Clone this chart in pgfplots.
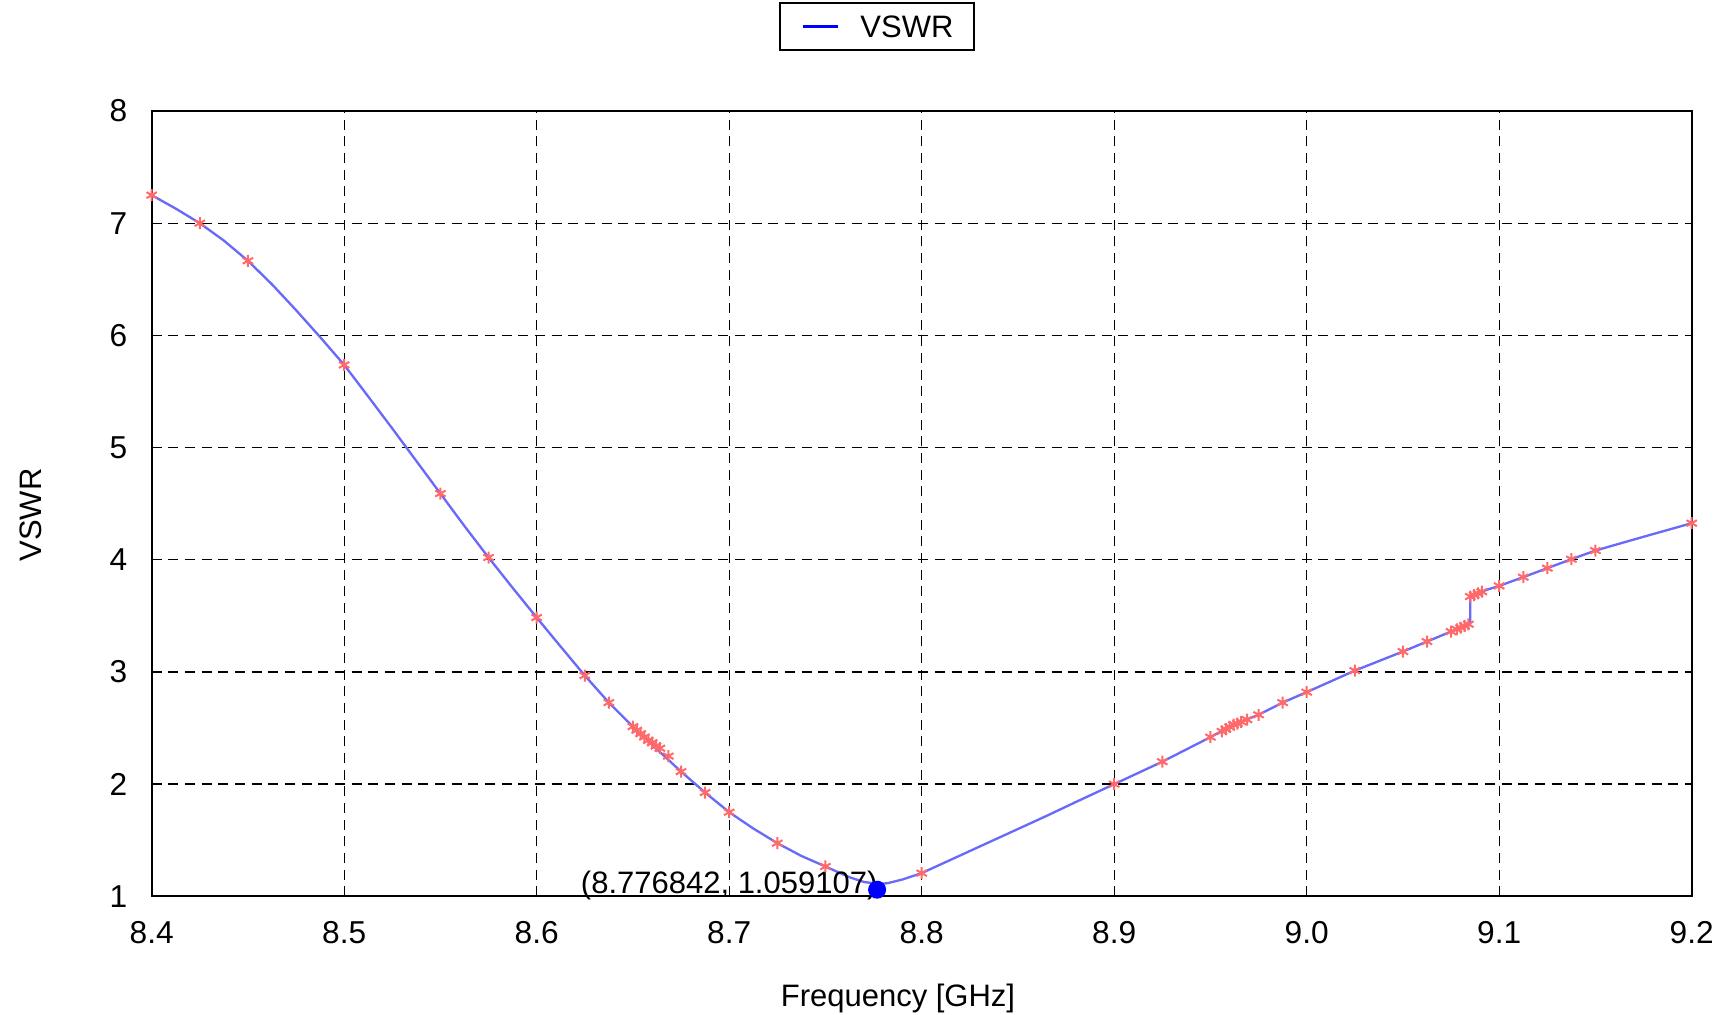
\documentclass[border=0pt]{standalone}
\usepackage{pgfplots}
\pgfplotsset{compat=1.18}
\usepackage{pgfplotstable}
\usepackage{fontspec}
\setmainfont{Liberation Sans}
\definecolor{curveblue}{RGB}{105,105,250}
\definecolor{markred}{RGB}{255,105,105}

\pgfplotstableread{
x y
8.4 7.25
8.4125 7.13
8.425 7.0
8.4375 6.845
8.45 6.665
8.4625 6.455
8.475 6.225
8.4875 5.985
8.5 5.737
8.5125 5.455
8.525 5.17
8.5375 4.88
8.55 4.59
8.5625 4.30
8.575 4.02
8.5875 3.75
8.6 3.485
8.6125 3.225
8.625 2.968
8.6375 2.727
8.65 2.513
8.6625 2.31
8.675 2.112
8.6875 1.925
8.7 1.75
8.7125 1.605
8.725 1.474
8.7375 1.36
8.75 1.266
8.7625 1.17
8.77 1.128
8.7768 1.112
8.782 1.116
8.79 1.15
8.8 1.207
8.815 1.325
8.83 1.443
8.85 1.60
8.865 1.718
8.88 1.84
8.9 2.0
8.925 2.2
8.95 2.419
8.962 2.53
8.975 2.618
8.9875 2.727
9.0 2.82
9.025 3.012
9.05 3.182
9.0625 3.271
9.075 3.36
9.085 3.43
9.085 3.672
9.0935 3.732
9.1 3.767
9.1125 3.845
9.125 3.925
9.1375 4.005
9.15 4.082
9.175 4.205
9.2 4.326
}\curvedata

\pgfplotstableread{
x y
8.4 7.25
8.425 7.0
8.45 6.665
8.5 5.737
8.55 4.59
8.575 4.02
8.6 3.485
8.625 2.968
8.6375 2.727
8.65 2.513
8.652 2.48
8.654 2.45
8.656 2.42
8.658 2.39
8.660 2.37
8.662 2.34
8.664 2.32
8.6684 2.25
8.675 2.112
8.6875 1.925
8.7 1.75
8.725 1.474
8.75 1.266
8.8 1.207
8.9 2.0
8.925 2.2
8.95 2.419
8.956 2.47
8.958 2.49
8.960 2.51
8.962 2.53
8.964 2.54
8.966 2.555
8.969 2.575
8.975 2.618
8.9875 2.727
9.0 2.82
9.025 3.012
9.05 3.182
9.0625 3.271
9.075 3.36
9.078 3.38
9.080 3.395
9.082 3.41
9.084 3.425
9.085 3.672
9.087 3.685
9.089 3.70
9.091 3.715
9.1 3.767
9.1125 3.845
9.125 3.925
9.1375 4.005
9.15 4.082
9.2 4.326
}\markdata

\begin{document}
\begin{tikzpicture}
\begin{axis}[
  scale only axis,
  width=462pt, height=235.6pt,
  xmin=8.4, xmax=9.2, ymin=1, ymax=8,
  xtick={8.4,8.5,8.6,8.7,8.8,8.9,9.0,9.1,9.2},
  ytick={1,2,3,4,5,6,7,8},
  grid=major,
  major grid style={black, line width=0.4pt, dash pattern=on 3pt off 2pt},
  axis line style={black, line width=0.6pt},
  major tick length=0pt,
  tick style={draw=none},
  clip=false,
  font=\fontsize{9.3}{11}\selectfont,
  /pgf/number format/assume math mode=true,
  xticklabel style={anchor=center, inner sep=0pt, yshift=-11pt, font=\fontsize{9.5}{11}\selectfont,
    /pgf/number format/.cd, fixed, fixed zerofill, precision=1},
  yticklabel style={anchor=center, inner sep=0pt, xshift=-10pt, font=\fontsize{9.5}{11}\selectfont},
  xlabel={Frequency [GHz]},
  ylabel={VSWR},
  xlabel style={at={(axis description cs:0.4846,-0.1295)}, anchor=center, inner sep=0pt},
  ylabel style={at={(axis description cs:-0.0786,0.4857)}, anchor=center, inner sep=0pt},
  legend style={at={(axis description cs:0.4713,1.1385)}, anchor=north,
    draw=black, line width=0.6pt, inner xsep=6.3pt, inner ysep=3.7pt,
    column sep=6.3pt,
    nodes={inner sep=0pt, text height=6.7pt, text depth=0pt},
    font=\fontsize{9.3}{11}\selectfont},
  legend cell align=left,
]
\addplot[curveblue, line width=0.7pt, no markers,
  legend image code/.code={\draw[blue, line width=0.9pt] (0pt,0pt) -- (10.5pt,0pt);}]
  table[x=x,y=y] {\curvedata};
\addlegendentry{VSWR}
\addplot[only marks, mark=asterisk, mark size=1.8pt, markred, line width=0.6pt, forget plot]
  table[x=x,y=y] {\markdata};
\addplot[only marks, mark=*, mark size=2.5pt, blue, forget plot]
  coordinates {(8.776842,1.059107)}
  node[anchor=base east, black, inner sep=0pt, yshift=-1.2pt, xshift=0.3pt, font=\fontsize{9.3}{11}\selectfont] {(8.776842, 1.059107)};
\end{axis}
\path ([shift={(-45.5pt,-35.55pt)}]current axis.south west) rectangle ([shift={(8.2pt,33.3pt)}]current axis.north east);
\end{tikzpicture}
\end{document}
